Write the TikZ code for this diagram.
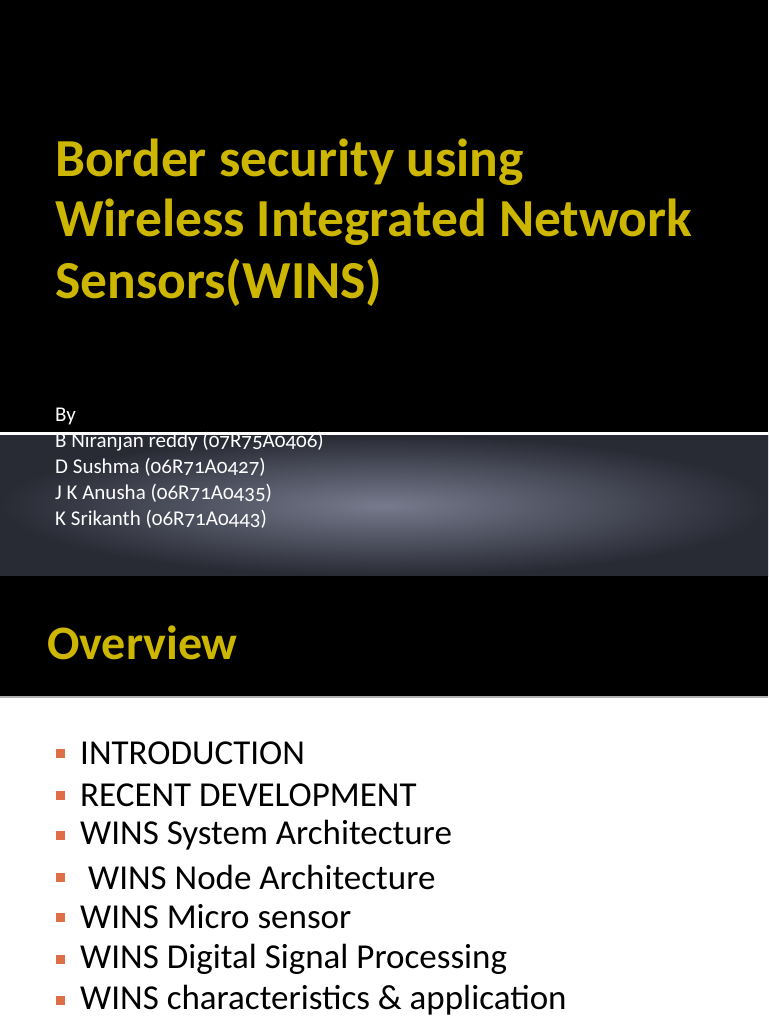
\documentclass[tikz,border=0pt]{standalone}
\usepackage{fontspec}
\setmainfont{Carlito}[Numbers=OldStyle]
\definecolor{ttl}{RGB}{205,182,0}
\definecolor{bul}{RGB}{222,110,70}
\definecolor{gmid}{RGB}{118,122,140}
\definecolor{gedge}{RGB}{40,42,52}
\begin{document}
\begin{tikzpicture}[x=1pt,y=-1pt,
  title/.style={anchor=west,text=ttl,font=\fontsize{53.5}{56}\selectfont\bfseries,inner sep=0},
  by/.style={anchor=west,text=white,font=\fontsize{21}{23}\selectfont,inner sep=0},
  item/.style={anchor=west,text=black,font=\fontsize{35}{38}\selectfont,inner sep=0}]
\useasboundingbox (0,0) rectangle (768,1024);
\fill[black] (0,0) rectangle (768,432);
\fill[white] (0,432) rectangle (768,435);
\shade[inner color=gmid,outer color=gedge] (0,435) rectangle (768,576);
\fill[black] (0,576) rectangle (768,696);
\fill[white] (0,696) rectangle (768,1024);
\fill[gray!60] (0,696) rectangle (768,698);
\node[title] (t1) at (55,162) {Border security using};
\node[title] (t2) at (55,222) {Wireless Integrated Network};
\node[title] (t3) at (55,283) {Sensors(WINS)};
\node[by] (b0) at (55,416) {By};
\node[by] (b1) at (55,442) {B Niranjan reddy (07R75A0406)};
\node[by] (b2) at (55,467) {D Sushma (06R71A0427)};
\node[by] (b3) at (55,493) {J K Anusha (06R71A0435)};
\node[by] (b4) at (55,519) {K Srikanth (06R71A0443)};
\node[title,font=\fontsize{48}{52}\selectfont\bfseries] (ov) at (47,643) {Overview};
\foreach \t/\y [count=\i] in {INTRODUCTION/753,RECENT DEVELOPMENT/795,WINS System Architecture/835,{\ WINS Node Architecture}/877,WINS Micro sensor/917,WINS Digital Signal Processing/959,WINS characteristics \& application/1000}{
  \fill[bul] (55.5,\y-4.5) rectangle (64.5,\y+4.5);
  \node[item] (i\i) at (80,\y) {\t};
}
\end{tikzpicture}
\end{document}
